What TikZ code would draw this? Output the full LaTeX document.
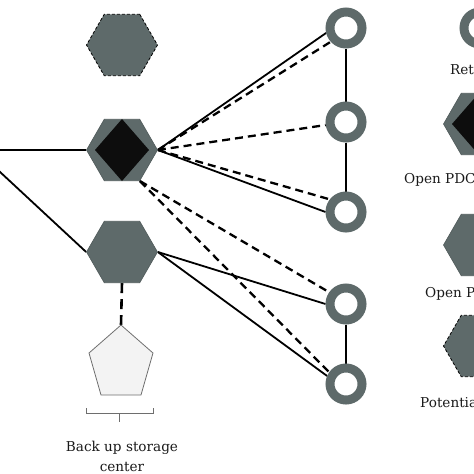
\documentclass[tikz,border=0pt]{standalone}
\usepackage{fontspec}
\setmainfont{DejaVu Serif}
\usetikzlibrary{shapes.geometric,backgrounds}
\definecolor{hexgray}{RGB}{94,106,106}
\definecolor{pentfill}{RGB}{243,243,243}
\definecolor{pentline}{RGB}{110,110,110}
\begin{document}
\begin{tikzpicture}[x=1pt,y=-1pt,
 hexnode/.style={regular polygon, regular polygon sides=6, minimum size=71pt, inner sep=0pt, fill=hexgray, draw=hexgray!85!black, line width=0.6pt},
 potnode/.style={hexnode, draw=black, line width=0.8pt, dash pattern=on 3pt off 2pt},
 ringnode/.style={circle, draw=hexgray, fill=white, line width=9pt, minimum size=32pt, inner sep=0pt},
 solidlink/.style={draw=black, line width=1.8pt},
 dashlink/.style={draw=black, line width=2.3pt, dash pattern=on 8pt off 5pt},
 lbl/.style={font=\fontsize{13.6}{20}\selectfont, text=black!90, inner sep=0pt}]
\useasboundingbox (0,0) rectangle (474,474);
\clip (0,0) rectangle (474,474);
% main hexagons
\node[potnode] (h1) at (122,45) {};
\node[hexnode] (h2) at (122,150) {};
\fill[black!95] (122,119) -- (149,150) -- (122,181) -- (95,150) -- cycle;
\node[hexnode] (h3) at (122,252) {};
% pentagon
\coordinate (pt) at (121,325);
\draw[pentline, fill=pentfill, line width=0.8pt] (pt) -- (153,353) -- (141,395) -- (101,395) -- (89,353) -- cycle;
% rings
\node[ringnode] (r1) at (346,28) {};
\node[ringnode] (r2) at (346,122) {};
\node[ringnode] (r3) at (346,212) {};
\node[ringnode] (r4) at (346,304) {};
\node[ringnode] (r5) at (346,384) {};
% free ends
\coordinate (e1) at (-5,150);
\coordinate (e2) at (-5,167.3);
\begin{scope}[on background layer]
\draw[solidlink] (e1) -- (h2.180);
\draw[solidlink] (e2) -- (h3.180);
\draw[solidlink] (h2.0) -- (r1.194);
\draw[dashlink] (h2.0) -- (r1.222);
\draw[dashlink] (h2.0) -- (r2);
\draw[solidlink] (h2.0) -- (r3.180);
\draw[dashlink] (h2.0) -- (r3.142);
\draw[dashlink] (h2.-60) -- (r4.145);
\draw[dashlink] (h2.-60) -- (r5.145);
\draw[solidlink] (h3.0) -- (r4.180);
\draw[solidlink] (h3.0) -- (r5.157);
\draw[solidlink] (r1) -- (r2);
\draw[solidlink] (r2) -- (r3);
\draw[solidlink] (r4) -- (r5);
\draw[dashlink, line width=2.6pt, dash pattern=on 10pt off 6pt] (h3.270) -- (pt);
\end{scope}
% bracket and label
\draw[pentline, line width=0.8pt] (86,408) -- (86,413) -- (153,413) -- (153,408);
\draw[pentline, line width=0.8pt] (119.5,413) -- (119.5,422);
\node[lbl, align=center] (bl) at (122,456) {Back up storage\\center};
% legend
\node[ringnode] (lr) at (480,28) {};
\node[lbl, anchor=west] (t1) at (450,70) {Ret};
\node[hexnode] (lh1) at (479,124) {};
\fill[black!95] (479,93) -- (506,124) -- (479,155) -- (452,124) -- cycle;
\node[lbl, anchor=west] (t2) at (404,180) {Open PDC};
\node[hexnode] (lh2) at (479,245) {};
\node[lbl, anchor=west] (t3) at (425,294) {Open P};
\node[potnode] (lh3) at (479,346) {};
\node[lbl, anchor=west] (t4) at (420,403) {Potentia};
\end{tikzpicture}
\end{document}
